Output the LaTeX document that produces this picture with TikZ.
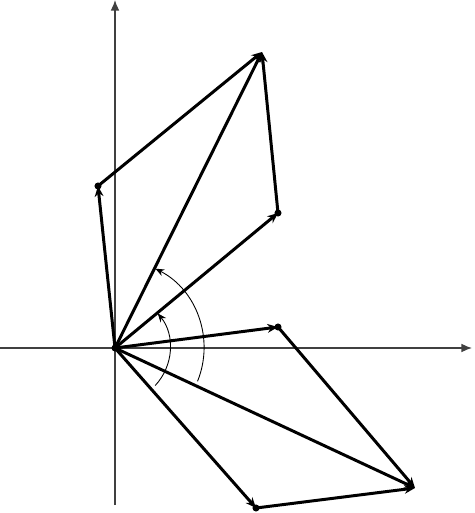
\documentclass[tikz,border=0pt]{standalone}
\usetikzlibrary{arrows.meta}

\tikzset{
  axis/.style={-{Latex[length=6pt,width=5pt]}, line width=0.8pt, black!75},
  vec/.style={-{Stealth[length=6pt,width=5pt]}, line width=1.7pt},
  dot/.style={circle, fill, inner sep=0pt, minimum size=4pt},
  turn/.style={->, >={Stealth[length=5pt,width=4pt]}, line width=0.5pt}
}

\begin{document}
\begin{tikzpicture}[x=0.02cm, y=0.02cm]
  \useasboundingbox (-115,-165) rectangle (359,348);

  % axes
  \coordinate (xl) at (-115,0);
  \coordinate (xr) at (357,0);
  \coordinate (yb) at (0,-157);
  \coordinate (yt) at (0,348);
  \draw[axis] (xl) -- (xr);
  \draw[axis] (yb) -- (yt);

  % points
  \coordinate (O)  at (0,0);
  \coordinate (u1) at (163,21);
  \coordinate (v1) at (141,-160);
  \coordinate (s1) at (300,-140);
  \coordinate (u2) at (163,135);
  \coordinate (v2) at (-17,162);
  \coordinate (s2) at (147,296);

  % lower parallelogram
  \draw[vec] (O) -- (u1);
  \draw[vec] (O) -- (v1);
  \draw[vec] (O) -- (s1);
  \draw[vec] (u1) -- (s1);
  \draw[vec] (v1) -- (s1);

  % upper parallelogram
  \draw[vec] (O) -- (u2);
  \draw[vec] (O) -- (v2);
  \draw[vec] (O) -- (s2);
  \draw[vec] (u2) -- (s2);
  \draw[vec] (v2) -- (s2);

  % rotation arcs
  \draw[turn] (-43:55) arc[start angle=-43, end angle=39, radius=55];
  \draw[turn] (-22:89) arc[start angle=-22, end angle=63, radius=89];

  % dots
  \node[dot] (pO)  at (O)  {};
  \node[dot] (pu1) at (u1) {};
  \node[dot] (pv1) at (v1) {};
  \node[dot] (pu2) at (u2) {};
  \node[dot] (pv2) at (v2) {};
\end{tikzpicture}
\end{document}
